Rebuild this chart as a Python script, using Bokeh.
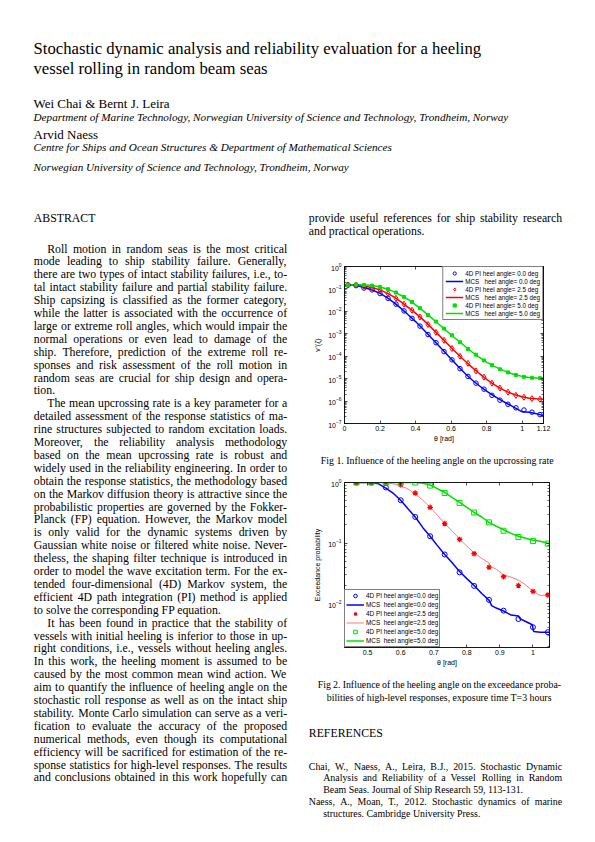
from bokeh.plotting import figure
from bokeh.models import (Range1d, LogAxis, LinearAxis, FixedTicker,
                          CustomJSTickFormatter, Legend, LegendItem)
from bokeh.layouts import column, row
from bokeh.embed import file_html
from bokeh.resources import INLINE
from bokeh.core.properties import value

# ------------------------------------------------------------------ Fig 1 data
fig1_theta_pi = [0.02, 0.065, 0.11, 0.155, 0.2, 0.245, 0.29, 0.335, 0.38, 0.425,
                 0.47, 0.515, 0.56, 0.605, 0.65, 0.695, 0.74, 0.785, 0.83, 0.875,
                 0.92, 0.965, 1.01, 1.055, 1.10]
fig1_pi_h00 = [1.5e-1, 1.4e-1, 1.1e-1, 9.1e-2, 6.2e-2, 3.8e-2, 2.1e-2, 1.05e-2, 4.9e-3, 2.2e-3,
               9.3e-4, 4.0e-4, 1.6e-4, 6.9e-5, 2.8e-5, 1.26e-5, 6.3e-6, 3.4e-6, 1.8e-6, 1.1e-6,
               7.2e-7, 5.0e-7, 4.0e-7, 3.2e-7, 2.5e-7]
fig1_pi_h25 = [1.5e-1, 1.5e-1, 1.32e-1, 1.15e-1, 9.1e-2, 6.2e-2, 3.8e-2, 2.1e-2, 1.12e-2, 5.6e-3,
               2.6e-3, 1.15e-3, 5.1e-4, 2.2e-4, 1.0e-4, 4.8e-5, 2.2e-5, 1.17e-5, 6.3e-6, 3.8e-6,
               2.5e-6, 1.8e-6, 1.48e-6, 1.29e-6, 1.2e-6]
fig1_pi_h50 = [1.5e-1, 1.58e-1, 1.5e-1, 1.41e-1, 1.23e-1, 9.8e-2, 6.9e-2, 4.4e-2, 2.6e-2, 1.38e-2,
               6.9e-3, 3.5e-3, 1.7e-3, 8.5e-4, 4.2e-4, 2.1e-4, 1.17e-4, 6.5e-5, 4.0e-5, 2.6e-5,
               1.9e-5, 1.45e-5, 1.2e-5, 1.1e-5, 1.05e-5]

fig1_theta_mcs = [0.0, 0.04, 0.08, 0.12, 0.16, 0.2, 0.24, 0.28, 0.32, 0.36, 0.4, 0.44, 0.48,
                  0.52, 0.56, 0.6, 0.64, 0.68, 0.72, 0.76, 0.8, 0.84, 0.88, 0.92, 0.96, 1.0,
                  1.04, 1.08, 1.12]
fig1_mcs_h00 = [1.38e-1, 1.48e-1, 1.35e-1, 1.1e-1, 8.7e-2, 6.3e-2, 4.1e-2, 2.4e-2, 1.32e-2,
                6.9e-3, 3.5e-3, 1.66e-3, 7.8e-4, 3.6e-4, 1.66e-4, 7.6e-5, 3.5e-5, 1.66e-5,
                8.5e-6, 4.7e-6, 2.75e-6, 1.7e-6, 1.1e-6, 7.4e-7, 5.0e-7, 3.3e-7, 3.2e-7,
                2.75e-7, 2.2e-7]
fig1_mcs_h25 = [1.38e-1, 1.5e-1, 1.45e-1, 1.29e-1, 1.12e-1, 9.1e-2, 6.5e-2, 4.3e-2, 2.6e-2,
                1.48e-2, 8.3e-3, 4.4e-3, 2.2e-3, 1.07e-3, 5.1e-4, 2.45e-4, 1.2e-4, 6.0e-5,
                3.1e-5, 1.66e-5, 9.3e-6, 5.6e-6, 3.6e-6, 2.5e-6, 1.9e-6, 1.55e-6, 1.35e-6,
                1.26e-6, 1.2e-6]
fig1_mcs_h50 = [1.38e-1, 1.5e-1, 1.55e-1, 1.5e-1, 1.41e-1, 1.23e-1, 1.0e-1, 7.4e-2, 5.1e-2,
                3.3e-2, 1.95e-2, 1.1e-2, 6.0e-3, 3.2e-3, 1.7e-3, 9.1e-4, 4.9e-4, 2.7e-4,
                1.5e-4, 8.9e-5, 5.5e-5, 3.6e-5, 2.6e-5, 1.9e-5, 1.48e-5, 1.26e-5, 1.12e-5,
                1.07e-5, 1.07e-5]
fig1_xticks = [0, 0.2, 0.4, 0.6, 0.8, 1.0, 1.12]
fig1_yticks = [1e-7, 1e-6, 1e-5, 1e-4, 1e-3, 1e-2, 1e-1, 1.0]

# ------------------------------------------------------------------ Fig 2 data
fig2_theta_pi = [0.466, 0.511, 0.555, 0.6, 0.644, 0.689, 0.733, 0.778, 0.822, 0.867,
                 0.911, 0.956, 1.0, 1.045]
fig2_pi_h00 = [1.0, 1.0, 0.83, 0.51, 0.27, 0.13, 0.065, 0.033, 0.0197, 0.0116,
               0.0077, 0.0056, 0.0041, 0.0034]
fig2_pi_h25 = [1.0, 1.0, 1.0, 0.92, 0.67, 0.39, 0.21, 0.115, 0.067, 0.040,
               0.028, 0.020, 0.016, 0.014]
fig2_pi_h50 = [1.0, 1.0, 1.0, 1.0, 1.0, 0.89, 0.67, 0.46, 0.32, 0.22,
               0.16, 0.126, 0.108, 0.098]

fig2_theta_mcs_h00 = [0.466, 0.511, 0.533, 0.555, 0.578, 0.6, 0.622, 0.644, 0.667, 0.689,
                      0.711, 0.733, 0.755, 0.778, 0.8, 0.822, 0.845, 0.867, 0.875, 0.889,
                      0.911, 0.934, 0.956, 0.96, 0.978, 0.998, 1.002, 1.022, 1.05]
fig2_mcs_h00 = [1.0, 1.0, 0.95, 0.81, 0.66, 0.51, 0.37, 0.27, 0.18, 0.13,
                0.091, 0.065, 0.048, 0.034, 0.026, 0.020, 0.0148, 0.0115, 0.0093, 0.0085,
                0.0076, 0.0065, 0.0063, 0.0057, 0.0051, 0.0045, 0.0035, 0.0034, 0.0034]
fig2_theta_mcs_h25 = [0.466, 0.555, 0.578, 0.6, 0.622, 0.644, 0.667, 0.689, 0.711, 0.733,
                      0.755, 0.778, 0.8, 0.822, 0.845, 0.867, 0.87, 0.889, 0.911, 0.934,
                      0.956, 0.978, 1.0, 1.022, 1.05]
fig2_mcs_h25 = [1.0, 1.0, 0.95, 0.88, 0.78, 0.65, 0.51, 0.39, 0.29, 0.21,
                0.16, 0.117, 0.089, 0.069, 0.056, 0.047, 0.042, 0.037, 0.030, 0.0275,
                0.0245, 0.0204, 0.0162, 0.0138, 0.0138]
fig2_theta_mcs_h50 = [0.466, 0.644, 0.667, 0.689, 0.711, 0.733, 0.755, 0.778, 0.8, 0.822,
                      0.845, 0.867, 0.889, 0.911, 0.934, 0.956, 0.978, 1.0, 1.022, 1.05]
fig2_mcs_h50 = [1.0, 1.0, 0.97, 0.91, 0.79, 0.69, 0.57, 0.47, 0.39, 0.32,
                0.27, 0.22, 0.19, 0.166, 0.145, 0.13, 0.12, 0.112, 0.107, 0.098]
fig2_xticks = [0.5, 0.6, 0.7, 0.8, 0.9, 1.0]
fig2_yticks = [1e-2, 1e-1, 1.0]

fig1_labels = ["4D PI heel angle= 0.0 deg", "MCS\u00a0\u00a0\u00a0heel angle= 0.0 deg",
               "4D PI heel angle= 2.5 deg", "MCS\u00a0\u00a0\u00a0heel angle= 2.5 deg",
               "4D PI heel angle= 5.0 deg", "MCS\u00a0\u00a0\u00a0heel angle= 5.0 deg"]
fig2_labels = ["4D PI heel angle=0.0 deg", "MCS\u00a0\u00a0heel angle=0.0 deg",
               "4D PI heel angle=2.5 deg", "MCS\u00a0\u00a0heel angle=2.5 deg",
               "4D PI heel angle=5.0 deg", "MCS\u00a0\u00a0heel angle=5.0 deg"]

# ------------------------------------------------------------------ page text
TITLE_LINES = ["Stochastic dynamic analysis and reliability evaluation for a heeling",
               "vessel rolling in random beam seas"]
AUTHORS_1 = "Wei Chai & Bernt J. Leira"
AFFIL_1 = "Department of Marine Technology, Norwegian University of Science and Technology, Trondheim, Norway"
AUTHORS_2 = "Arvid Naess"
AFFIL_2 = ["Centre for Ships and Ocean Structures & Department of Mathematical Sciences",
           "Norwegian University of Science and Technology, Trondheim, Norway"]

PAR_1 = ["Roll motion in random seas is the most critical",
         "mode leading to ship stability failure. Generally,",
         "there are two types of intact stability failures, i.e., to-",
         "tal intact stability failure and partial stability failure.",
         "Ship capsizing is classified as the former category,",
         "while the latter is associated with the occurrence of",
         "large or extreme roll angles, which would impair the",
         "normal operations or even lead to damage of the",
         "ship. Therefore, prediction of the extreme roll re-",
         "sponses and risk assessment of the roll motion in",
         "random seas are crucial for ship design and opera-",
         "tion."]
PAR_2 = ["The mean upcrossing rate is a key parameter for a",
         "detailed assessment of the response statistics of ma-",
         "rine structures subjected to random excitation loads.",
         "Moreover, the reliability analysis methodology",
         "based on the mean upcrossing rate is robust and",
         "widely used in the reliability engineering. In order to",
         "obtain the response statistics, the methodology based",
         "on the Markov diffusion theory is attractive since the",
         "probabilistic properties are governed by the Fokker-",
         "Planck (FP) equation. However, the Markov model",
         "is only valid for the dynamic systems driven by",
         "Gaussian white noise or filtered white noise. Never-",
         "theless, the shaping filter technique is introduced in",
         "order to model the wave excitation term. For the ex-",
         "tended four-dimensional (4D) Markov system, the",
         "efficient 4D path integration (PI) method is applied",
         "to solve the corresponding FP equation."]
PAR_3 = ["It has been found in practice that the stability of",
         "vessels with initial heeling is inferior to those in up-",
         "right conditions, i.e., vessels without heeling angles.",
         "In this work, the heeling moment is assumed to be",
         "caused by the most common mean wind action. We",
         "aim to quantify the influence of heeling angle on the",
         "stochastic roll response as well as on the intact ship",
         "stability. Monte Carlo simulation can serve as a veri-",
         "fication to evaluate the accuracy of the proposed",
         "numerical methods, even though its computational",
         "efficiency will be sacrificed for estimation of the re-",
         "sponse statistics for high-level responses. The results",
         "and conclusions obtained in this work hopefully can"]
PAR_3_CONT = ["provide useful references for ship stability research",
              "and practical operations."]
CAPTION_1 = "Fig 1. Influence of the heeling angle on the upcrossing rate"
CAPTION_2 = ["Fig 2. Influence of the heeling angle on the exceedance proba-",
             "bilities of high-level responses, exposure time T=3 hours"]
REFS = [("Chai, W., Naess, A., Leira, B.J., 2015. Stochastic Dynamic", 0, True),
        ("Analysis and Reliability of a Vessel Rolling in Random", 1, True),
        ("Beam Seas. Journal of Ship Research 59, 113-131.", 1, False),
        ("Naess, A., Moan, T., 2012. Stochastic dynamics of marine", 0, True),
        ("structures. Cambridge University Press.", 1, False)]

# ------------------------------------------------------------------ helpers
TIMES = dict(zip("abcdefghijklmnopqrstuvwxyz",
                 [444, 500, 444, 500, 444, 333, 500, 500, 278, 278, 500, 278, 778, 500,
                  500, 500, 500, 333, 389, 278, 500, 500, 722, 500, 500, 444]))
TIMES.update(zip("ABCDEFGHIJKLMNOPQRSTUVWXYZ",
                 [722, 667, 667, 722, 611, 556, 722, 722, 333, 389, 722, 611, 889, 722,
                  722, 556, 722, 667, 556, 611, 722, 722, 944, 722, 722, 611]))
TIMES.update({c: 500 for c in "0123456789"})
TIMES.update({" ": 250, ",": 250, ".": 250, "-": 333, "(": 333, ")": 333, ":": 278,
              ";": 278, "&": 778, "=": 564, "'": 333})


def tw(s, size):
    return sum(TIMES.get(c, 500) for c in s) / 1000.0 * size


SERIF = "Liberation Serif"
SANS = "Liberation Sans"


def canvas(x0, y0, w, h):
    p = figure(width=w, height=h, x_range=Range1d(x0, x0 + w), y_range=Range1d(y0 + h, y0),
               output_backend="svg", toolbar_location=None, min_border=0,
               x_axis_location=None, y_axis_location=None, outline_line_color=None,
               background_fill_color="white", border_fill_color="white",
               frame_align=False)
    p.grid.grid_line_color = None
    return p


def put(p, xs, ys, texts, size, style="normal", align="left", font=SERIF):
    p.text(x=xs, y=ys, text=texts, text_font=value(font), text_font_size=value(f"{size}px"),
           text_font_style=style, text_align=align, text_baseline="alphabetic",
           text_color="black")


class Block:
    def __init__(self):
        self.xs, self.ys, self.ts = [], [], []

    def plain(self, x, y, t):
        self.xs.append(x); self.ys.append(y); self.ts.append(t)

    def justify(self, x0, x1, y, line, size):
        words = line.split(" ")
        ws = [tw(w, size) for w in words]
        gap = (x1 - x0 - sum(ws)) / max(len(words) - 1, 1)
        x = x0
        for w, wd in zip(words, ws):
            self.plain(x, y, w)
            x += wd + gap


BODY = 11.8
LEAD = 12.9
COL_L = (33.3, 286.7)
COL_R = (308.3, 561.7)
INDENT = 13.4
PAGE_W = 587
CAP = 9.9

# ------------------------------------------------------------------ header (page coords, origin 0)
header = canvas(0, 0, PAGE_W, 200)
put(header, [33, 33], [47.5, 67.5], TITLE_LINES, 16.7)
put(header, [33, 33], [102.8, 133.5], [AUTHORS_1, AUTHORS_2], 13)
put(header, [33, 33, 33], [116.7, 146.3, 166.3], [AFFIL_1] + AFFIL_2, 11.2, style="italic")

# ------------------------------------------------------------------ left column
left = canvas(0, 200, 300, 630)
put(left, [33.3], [217.5], ["ABSTRACT"], BODY)
body = Block()
n = 0
for par, last_justified in ((PAR_1, False), (PAR_2, False), (PAR_3, True)):
    for i, line in enumerate(par):
        y = 248.0 + LEAD * n
        x0 = COL_L[0] + (INDENT if i == 0 else 0)
        if i == len(par) - 1 and not last_justified:
            body.plain(x0, y, line)
        else:
            body.justify(x0, COL_L[1], y, line, BODY)
        n += 1
put(left, body.xs, body.ys, body.ts, BODY)

# ------------------------------------------------------------------ right column top
RW = PAGE_W - 300
rt = canvas(300, 200, RW, 58)
rtb = Block()
rtb.justify(COL_R[0], COL_R[1], 217.5, PAR_3_CONT[0], BODY)
rtb.plain(COL_R[0], 217.5 + LEAD, PAR_3_CONT[1])
put(rt, rtb.xs, rtb.ys, rtb.ts, BODY)


# ------------------------------------------------------------------ charts
def style_axis(ax, minor=True):
    ax.major_tick_in = 3
    ax.major_tick_out = 0
    ax.minor_tick_in = 2 if minor else 0
    ax.minor_tick_out = 0
    ax.axis_line_color = "black"
    ax.axis_line_width = 0.7
    ax.major_tick_line_width = 0.7
    ax.minor_tick_line_width = 0.6
    ax.major_label_text_font = SANS
    ax.major_label_text_font_size = "7px"
    ax.major_label_text_color = "black"
    ax.axis_label_text_font = SANS
    ax.axis_label_text_font_size = "7px"
    ax.axis_label_text_font_style = "normal"
    ax.axis_label_text_color = "black"


def hidden_axis(cls, ticker, minor=True):
    ax = cls(ticker=ticker, formatter=CustomJSTickFormatter(code="return ''"))
    style_axis(ax, minor)
    ax.major_label_text_font_size = "1px"
    ax.major_label_standoff = 0
    return ax


def make_chart(h, xr, yr, xt, yt, ymin, bl, br, bt, bb, xlabel, ylabel):
    p = figure(width=RW, height=h, x_range=Range1d(*xr), y_range=Range1d(*yr),
               y_axis_type="log", output_backend="svg", toolbar_location=None,
               min_border_left=bl, min_border_right=br, min_border_top=bt,
               min_border_bottom=bb, outline_line_color="black", outline_line_width=0.7,
               background_fill_color="white", border_fill_color="white",
               frame_align=False)
    p.grid.grid_line_color = None
    xa = p.xaxis[0]
    xa.ticker = FixedTicker(ticks=xt)
    xa.formatter = CustomJSTickFormatter(code="return String(Math.round(tick*100)/100)")
    style_axis(xa, minor=False)
    xa.major_label_standoff = 2
    xa.axis_label = xlabel
    xa.axis_label_standoff = 1
    ya = p.yaxis[0]
    ya.ticker = FixedTicker(ticks=yt, minor_ticks=ymin)
    style_axis(ya)
    ya.major_label_standoff = 3
    ya.axis_label = ylabel
    ya.axis_label_standoff = 4
    p.add_layout(hidden_axis(LinearAxis, FixedTicker(ticks=xt), minor=False), "above")
    p.add_layout(hidden_axis(LogAxis, FixedTicker(ticks=yt, minor_ticks=ymin)), "right")
    return p


def legend_for(p, items, loc, font_px, row_h, pad):
    lg = Legend(items=items, location=loc, margin=0, padding=pad, spacing=0,
                label_height=row_h, glyph_height=row_h, glyph_width=18, label_standoff=2,
                label_text_font=SANS, label_text_font_size=f"{font_px}px",
                label_text_color="black", border_line_color="black",
                border_line_width=0.6, background_fill_color="white",
                background_fill_alpha=1.0)
    p.add_layout(lg)


BLUE, RED, GREEN = "#0000ff", "#ff0000", "#00e000"

# frame: x 344..543, y 266..423 (page)
fig1_minor = [m * 10.0 ** e for e in range(-7, 0) for m in range(2, 10)]
c1 = make_chart(187, (0, 1.12), (1e-7, 1.0), fig1_xticks, fig1_yticks, fig1_minor,
                44, RW - 44 - 199, 8, 22, "\u03b8 [rad]", "v\u207a(\u03b6)")
l10 = c1.line(fig1_theta_mcs, fig1_mcs_h00, line_color=BLUE, line_width=1.5)
l25 = c1.line(fig1_theta_mcs, fig1_mcs_h25, line_color=RED, line_width=1.5)
l50 = c1.line(fig1_theta_mcs, fig1_mcs_h50, line_color=GREEN, line_width=1.5)
s10 = c1.scatter(fig1_theta_pi, fig1_pi_h00, marker="circle", size=4.5, fill_color=None,
                 line_color=BLUE, line_width=1)
s25 = c1.scatter(fig1_theta_pi, fig1_pi_h25, marker="diamond", size=6, fill_color=None,
                 line_color=RED, line_width=1)
s50 = c1.scatter(fig1_theta_pi, fig1_pi_h50, marker="square", size=3, fill_color=GREEN,
                 line_color=GREEN, line_width=1)
legend_for(c1, [LegendItem(label=fig1_labels[0], renderers=[s10]),
                LegendItem(label=fig1_labels[1], renderers=[l10]),
                LegendItem(label=fig1_labels[2], renderers=[s25]),
                LegendItem(label=fig1_labels[3], renderers=[l25]),
                LegendItem(label=fig1_labels[4], renderers=[s50]),
                LegendItem(label=fig1_labels[5], renderers=[l50])], "top_right", 6.3, 8, 2)

cap1 = canvas(300, 445, RW, 30)
put(cap1, [436.7], [459.5], [CAPTION_1], CAP, align="center")

# frame: x 344..549, y 482..648 (page)
fig2_minor = [m * 10.0 ** e for e in range(-3, 0) for m in range(2, 10) if m * 10.0 ** e > 1.9e-3]
c2 = make_chart(193, (0.43, 1.05), (1.9e-3, 1.0), fig2_xticks, fig2_yticks, fig2_minor,
                44, RW - 44 - 205, 7, 20, "\u03b8 [rad]", "Exceedance probability")
m10 = c2.line(fig2_theta_mcs_h00, fig2_mcs_h00, line_color=BLUE, line_width=1.5)
m25 = c2.line(fig2_theta_mcs_h25, fig2_mcs_h25, line_color="#ff7a7a", line_width=1)
m50 = c2.line(fig2_theta_mcs_h50, fig2_mcs_h50, line_color=GREEN, line_width=1.5)
p10 = c2.scatter(fig2_theta_pi, fig2_pi_h00, marker="circle", size=5, fill_color=None,
                 line_color=BLUE, line_width=1)
p25 = c2.scatter(fig2_theta_pi, fig2_pi_h25, marker="asterisk", size=5.5,
                 line_color=RED, line_width=1.2)
p50 = c2.scatter(fig2_theta_pi, fig2_pi_h50, marker="square", size=5, fill_color=None,
                 line_color=GREEN, line_width=1)
legend_for(c2, [LegendItem(label=fig2_labels[0], renderers=[p10]),
                LegendItem(label=fig2_labels[1], renderers=[m10]),
                LegendItem(label=fig2_labels[2], renderers=[p25]),
                LegendItem(label=fig2_labels[3], renderers=[m25]),
                LegendItem(label=fig2_labels[4], renderers=[p50]),
                LegendItem(label=fig2_labels[5], renderers=[m50])], "bottom_left", 6.4, 9, 1)

# ------------------------------------------------------------------ bottom right
rest = canvas(300, 668, RW, 170)
cb = Block()
cb.justify(317.3, 560.7, 684, CAPTION_2[0], CAP)
put(rest, cb.xs, cb.ys, cb.ts, CAP)
put(rest, [438.7], [696.5], [CAPTION_2[1]], CAP, align="center")
put(rest, [COL_R[0]], [732], ["REFERENCES"], BODY)
rb = Block()
REF_SIZE = 9.9
for k, (line, ind, just) in enumerate(REFS):
    y = 765.5 + 11.8 * k
    x0 = COL_R[0] + 14.4 * ind
    if just:
        rb.justify(x0, COL_R[1], y, line, REF_SIZE)
    else:
        rb.plain(x0, y, line)
put(rest, rb.xs, rb.ys, rb.ts, REF_SIZE)

right = column(rt, c1, cap1, c2, rest, spacing=0)
page = column(header, row(left, right, spacing=0), spacing=0)

open("out.html", "w").write(file_html(page, INLINE))
